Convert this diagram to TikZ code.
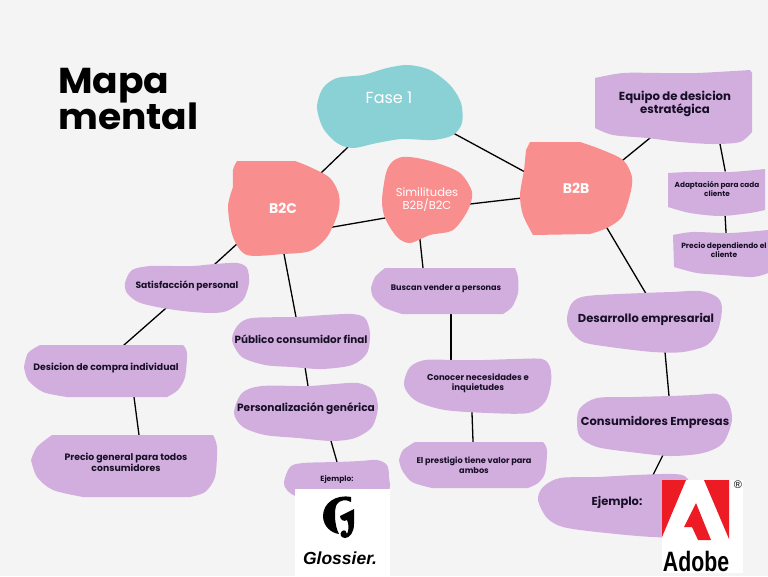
\documentclass[tikz,border=0pt]{standalone}
\usepackage{fontspec}
\usepackage{graphicx}
\setmainfont{Poppins}
\newfontfamily\logofont{Liberation Sans}
\definecolor{pagebg}{HTML}{F4F4F4}
\definecolor{teal}{HTML}{8AD1D6}
\definecolor{rosy}{HTML}{F98E8E}
\definecolor{lilac}{HTML}{D2AEDF}
\definecolor{ink}{HTML}{170F26}
\definecolor{adobered}{HTML}{ED1C24}
\pgfdeclarelayer{pagefill}
\pgfdeclarelayer{wires}
\pgfdeclarelayer{blobs}
\pgfsetlayers{pagefill,wires,blobs,main}
\tikzset{
  wire/.style={draw=black,line width=1.3pt,shorten >=-1.5pt,shorten <=-1.5pt},
  lbl/.style={inner sep=0pt,align=center,text=ink,font=\bfseries},
  lblw/.style={inner sep=0pt,align=center,text=white},
}
\newcommand\wire[6]{\begin{pgfonlayer}{wires}\draw[wire] ([shift={(#2,#3)}]#1.center) -- ([shift={(#5,#6)}]#4.center);\end{pgfonlayer}}
\newcommand\sz[1]{\fontsize{#1}{#1}\selectfont}
\newcommand\szl[2]{\fontsize{#1}{#2}\selectfont}
\begin{document}
\begin{tikzpicture}[x=1pt,y=-1pt,tension=0.5]
\useasboundingbox (0,0) rectangle (768,576);
\begin{pgfonlayer}{pagefill}
\fill[pagebg] (0,0) rectangle (768,576);
\end{pgfonlayer}
\begin{pgfonlayer}{blobs}
% Fase 1
\fill[teal] plot[smooth cycle] coordinates {(317,107)(323,88)(337,78)(363,75)(387,68)(408,65)(430,70)(450,85)(461,103)(462,123)(453,135)(433,140)(402,139)(377,143)(353,148)(337,143)(323,128)};
% B2C
\fill[rosy] plot[smooth] coordinates {(233,187)(233,170)(237,161)} -- (295,161) -- plot[smooth] coordinates {(295,161)(310,167)(330,178)(339,195)(338,213)(327,237)(310,251)(283,254)(247,255)(233,237)(228,207)(233,187)} -- cycle;
% Similitudes
\fill[rosy] plot[smooth cycle] coordinates {(386,173)(392,162)(402,157)(417,158)(437,163)(460,173)(472,192)(468,210)(453,230)(430,235)(410,243)(397,237)(385,218)(382,200)};
% B2B
\fill[rosy] plot[smooth] coordinates {(526,150)(530,142)} -- (580,142) -- plot[smooth] coordinates {(580,142)(600,149)(623,160)(632,177)(630,195)(622,217)(607,228)(590,234)} -- (533,235) -- plot[smooth] coordinates {(533,235)(523,215)(520,195)(524,170)(526,150)} -- cycle;
% Equipo
\fill[lilac] plot[smooth] coordinates {(595,78)(623,73)(660,73)(697,73)(750,70)} -- (752,73) -- (752,132) -- plot[smooth] coordinates {(752,132)(740,142)(713,144)(680,142)(647,138)(613,135)(595,128)} -- cycle;
% Adaptacion
\fill[lilac] plot[smooth] coordinates {(668,173)(690,172)(730,172)(765,169)} -- (765,210) -- plot[smooth] coordinates {(765,210)(750,213)(720,216)(690,213)(668,207)} -- cycle;
% Precio dependiendo
\fill[lilac] plot[smooth] coordinates {(673,235)(693,232)(730,233)(768,230)} -- (768,273) -- plot[smooth] coordinates {(768,273)(753,277)(723,275)(697,273)(674,267)} -- cycle;
% Satisfaccion
\fill[lilac] plot[smooth cycle] coordinates {(125,283)(132,270)(150,266)(172,266)(193,266)(215,264)(237,263)(247,268)(249,283)(243,300)(227,311)(210,313)(183,311)(157,307)(138,302)(127,293)};
% Desicion
\fill[lilac] plot[smooth] coordinates {(24,367)(28,353)(40,345)} -- (183,345) -- plot[smooth] coordinates {(183,345)(187,353)(185,377)(178,390)(167,397)} -- (67,397) -- plot[smooth] coordinates {(67,397)(43,392)(28,380)(24,367)} -- cycle;
% Precio general
\fill[lilac] plot[smooth] coordinates {(31,460)(37,447)(52,435)} -- (213,435) -- plot[smooth] coordinates {(213,435)(217,447)(215,477)(205,492)(190,497)} -- (83,497) -- plot[smooth] coordinates {(83,497)(53,490)(37,477)(31,460)} -- cycle;
% Publico
\fill[lilac] plot[smooth cycle] coordinates {(232,340)(238,325)(252,318)(295,317)(325,315)(352,314)(365,318)(370,333)(367,353)(352,365)(322,369)(292,367)(265,365)(242,357)};
% Personalizacion
\fill[lilac] plot[smooth cycle] coordinates {(234,413)(242,393)(262,386)(308,386)(335,384)(358,383)(373,390)(378,407)(372,427)(355,438)(332,441)(298,438)(265,435)(243,427)};
% Ejemplo Glossier
\fill[lilac] plot[smooth cycle] coordinates {(284,482)(290,467)(303,463)(337,462)(360,461)(377,460)(387,465)(389,477)(387,492)(350,500)(300,497)(287,490)};
% Buscan
\fill[lilac] plot[smooth] coordinates {(371,288)(375,277)(385,268)} -- (515,268) -- plot[smooth] coordinates {(515,268)(518,277)(518,293)(512,307)(503,314)} -- (402,314) -- plot[smooth] coordinates {(402,314)(383,307)(373,297)(371,288)} -- cycle;
% Conocer
\fill[lilac] plot[smooth cycle] coordinates {(404,382)(410,367)(425,360)(455,360)(483,360)(515,359)(542,359)(550,367)(551,383)(545,402)(528,413)(488,413)(445,410)(418,402)(407,392)};
% Prestigio
\fill[lilac] plot[smooth] coordinates {(399,460)(403,450)(415,442)} -- (543,442) -- plot[smooth] coordinates {(543,442)(547,450)(545,473)(538,483)(528,488)} -- (432,488) -- plot[smooth] coordinates {(432,488)(412,482)(402,470)(399,460)} -- cycle;
% Desarrollo
\fill[lilac] plot[smooth cycle] coordinates {(567,318)(572,303)(587,296)(643,293)(672,292)(700,291)(717,297)(722,308)(718,330)(707,345)(683,352)(653,352)(610,347)(583,342)(570,330)};
% Consumidores
\fill[lilac] plot[smooth cycle] coordinates {(577,422)(580,408)(597,398)(633,397)(670,396)(695,395)(717,394)(728,402)(732,420)(723,443)(703,453)(670,456)(630,452)(597,447)(580,437)};
% Ejemplo Adobe
\fill[lilac] plot[smooth cycle] coordinates {(538,500)(543,487)(560,478)(597,477)(635,475)(673,474)(687,478)(695,500)(685,535)(653,537)(597,532)(563,527)(547,518)};
\end{pgfonlayer}
% Title
\node[inner sep=0pt,anchor=west,text=black,font=\bfseries\szl{36}{36}] (title) at (58,104) {\scalebox{1.045}[1]{\begin{tabular}{@{}l@{}}Mapa\\[-1pt]mental\end{tabular}}};
% Labels
\node[lblw,font=\sz{16}] (fase) at (389,98) {Fase 1};
\node[lblw,font=\bfseries\sz{14}] (b2c) at (283,208) {B2C};
\node[lblw,font=\szl{11.5}{13}] (sim) at (427,200) {Similitudes\\B2B/B2C};
\node[lblw,font=\bfseries\sz{14}] (b2b) at (576,188) {B2B};
\node[lbl,font=\bfseries\szl{11.7}{13}] (equipo) at (675,104) {Equipo de desicion\\estratégica};
\node[lbl,font=\bfseries\szl{7.3}{8.5}] (adapt) at (717,189) {Adaptación para cada\\cliente};
\node[lbl,font=\bfseries\szl{7.5}{8.5}] (precio) at (724,250) {Precio dependiendo el\\cliente};
\node[lbl,font=\bfseries\sz{9.2}] (satisf) at (187,286) {Satisfacción personal};
\node[lbl,font=\bfseries\sz{9.3}] (desicion) at (106,368) {Desicion de compra individual};
\node[lbl,font=\bfseries\szl{9.3}{10}] (pgen) at (126,462) {Precio general para todos\\consumidores};
\node[lbl,font=\bfseries\sz{10.4}] (publico) at (301,339) {Público consumidor final};
\node[lbl,font=\bfseries\sz{10.6}] (personal) at (306,409) {Personalización genérica};
\node[lbl,font=\bfseries\sz{7.5}] (ejg) at (337,479) {Ejemplo:};
\node[lbl,font=\bfseries\sz{8.1}] (buscan) at (446,289) {Buscan vender a personas};
\node[lbl,font=\bfseries\szl{8.5}{9.5}] (conocer) at (478,383) {Conocer necesidades e\\inquietudes};
\node[lbl,font=\bfseries\szl{8.2}{9.5}] (prest) at (474,465) {El prestigio tiene valor para\\ambos};
\node[lbl,font=\bfseries\sz{11.5}] (desarrollo) at (646,319) {Desarrollo empresarial};
\node[lbl,font=\bfseries\sz{11.5}] (cons) at (655,422) {Consumidores Empresas};
\node[lbl,font=\bfseries\sz{11.5}] (eja) at (617,502) {Ejemplo:};
% Glossier logo
\fill[white] (295,489) rectangle (390,576);
\fill[black] (351,497) .. controls (336,494) and (323,503) .. (323,516) .. controls (323,526) and (331,533) .. (339,534) .. controls (334,525) and (334,508) .. (337,504) .. controls (340,500) and (346,499) .. (351,502) -- cycle;
\fill[black] (340,516) -- (354,509) -- (354,524) .. controls (354,532) and (350,538) .. (345,538) .. controls (341,538) and (339,534) .. (342,531) .. controls (345,529) and (347,532) .. (347,534) .. controls (349,530) and (349,524) .. (347,520) .. controls (344,522) and (340,520) .. (340,516) -- cycle;
\node[inner sep=0pt,text=black,font=\logofont\bfseries\itshape\sz{17.5}] (glossier) at (340,558) {Glossier.};
% Adobe logo
\fill[white] (662,480) rectangle (743,573);
\fill[adobered] (662,480) -- (686,480) -- (662,537) -- cycle;
\fill[adobered] (704,480) -- (729,480) -- (729,539) -- cycle;
\fill[adobered] (696,503) -- (711,540) -- (698,540) -- (692,527) -- (684,527) -- cycle;
\node[inner sep=0pt,text=black,font=\logofont\bfseries\sz{28}] (adobe) at (696,561) {\scalebox{0.76}[1]{Adobe}};
\node[inner sep=0pt,text=black,font=\logofont\sz{11}] (reg) at (738,485) {®};
% Connectors
\wire{fase}{-42}{50}{b2c}{38}{-35}
\wire{fase}{66}{36}{b2b}{-51}{-16}
\wire{b2c}{50}{19}{sim}{-42}{18}
\wire{sim}{43}{4}{b2b}{-54}{10}
\wire{b2b}{47}{-28}{equipo}{-25}{34}
\wire{equipo}{45}{40}{adapt}{8}{-19}
\wire{adapt}{8}{25}{precio}{2}{-18}
\wire{b2b}{31}{40}{desarrollo}{-1}{-27}
\wire{desarrollo}{19}{33}{cons}{14}{-26}
\wire{cons}{8}{33}{eja}{36}{-27}
\wire{b2c}{-45}{35}{satisf}{28}{-22}
\wire{b2c}{1}{46}{publico}{-5}{-22}
\wire{satisf}{-22}{23}{desicion}{18}{-23}
\wire{desicion}{28}{29}{pgen}{13}{-27}
\wire{publico}{4}{28}{personal}{2}{-23}
\wire{personal}{25}{32}{ejg}{0}{-17}
\wire{sim}{-7}{40}{buscan}{-23}{-21}
\wire{buscan}{5}{25}{conocer}{-27}{-24}
\wire{conocer}{-6}{30}{prest}{-1}{-24}
\end{tikzpicture}
\end{document}
